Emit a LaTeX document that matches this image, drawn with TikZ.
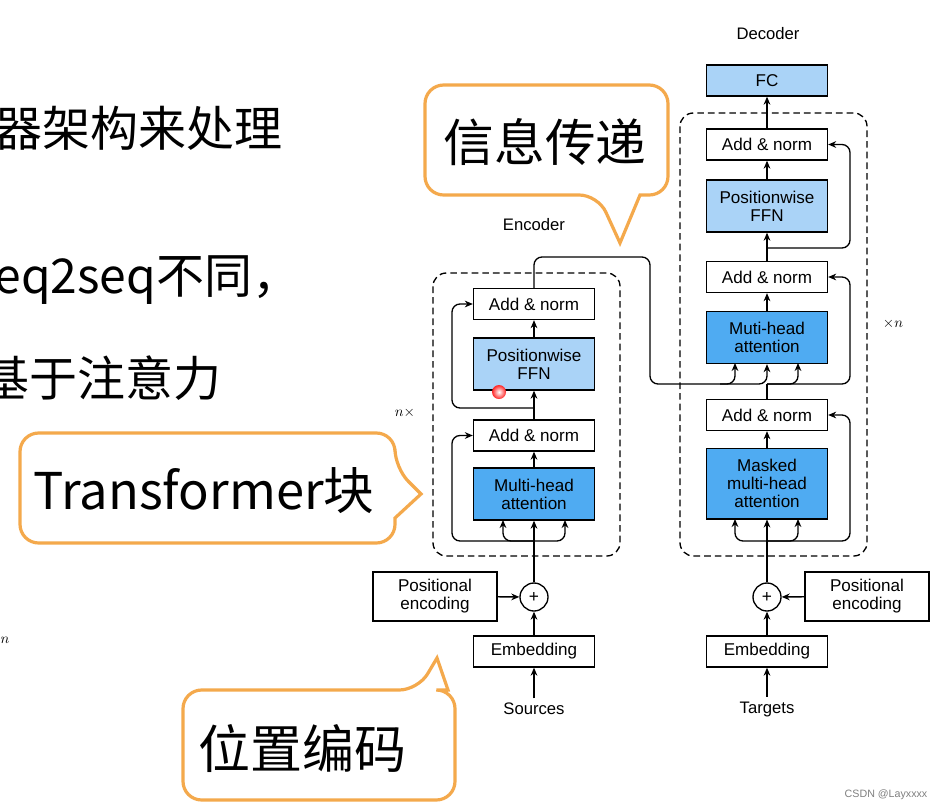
\documentclass[tikz,border=0pt]{standalone}
\usepackage{fontspec}
\setmainfont{Liberation Sans}
\newfontfamily\cjk{Noto Sans CJK SC}
\usetikzlibrary{arrows.meta}
\definecolor{dblue}{HTML}{4FABF2}
\definecolor{lblue}{HTML}{AAD3F7}
\definecolor{orng}{HTML}{F4A94C}
\begin{document}
\begin{tikzpicture}[x=0.75pt,y=-0.75pt,
  box/.style={draw,line width=1pt,minimum width=90.75pt,minimum height=23.25pt,inner sep=0pt,align=center,font=\fontsize{12.8}{13.5}\selectfont,fill=white},
  tall/.style={box,minimum height=39pt},
  pe/.style={box,minimum width=93pt,minimum height=36.75pt},
  plus/.style={draw,line width=1pt,circle,minimum size=21pt,inner sep=0pt,font=\fontsize{13}{13}\selectfont},
  blockbox/.style={line width=1pt,rounded corners=10pt,dash pattern=on 5pt off 3pt},
  ar/.style={line width=1pt,-{Stealth[length=6pt,width=5pt]},rounded corners=6pt},
  ln/.style={line width=1pt,rounded corners=6pt},
  lab/.style={font=\fontsize{12.5}{13}\selectfont},
  callout/.style={draw=orng,line width=2.4pt,fill=white,rounded corners=14pt},
  big/.style={font=\cjk\fontsize{36}{42}\selectfont}]
\useasboundingbox (0,0) rectangle (947,811);
\fill[white] (0,0) rectangle (947,811);
% left text
\node[big,anchor=east] (t1) at (287,128) {编码器架构来处理};
\node[big,anchor=east] (t2) at (305,280) {seq2seq不同，};
\node[big,anchor=east] (t3) at (226,378) {基于注意力};
\node[anchor=east,font=\fontsize{11}{11}\selectfont] (t4) at (14,640) {$\times n$};
% dashed boxes
\draw[blockbox] (433,273) rectangle (620,556);
\draw[blockbox] (680,113) rectangle (867,556);
\node[lab] (enc) at (534,225) {Encoder};
\node[lab] (dec) at (768,34) {Decoder};
\node[font=\fontsize{11}{11}\selectfont] (nx) at (405,413) {$n\times$};
\node[font=\fontsize{11}{11}\selectfont] (xn) at (893,324) {$\times n$};
% encoder
\node[box] (ean2) at (534,304) {Add \& norm};
\node[tall,fill=lblue] (effn) at (534,364) {Positionwise\\FFN};
\node[box] (ean1) at (534,435.5) {Add \& norm};
\node[tall,fill=dblue] (emha) at (534,494) {Multi-head\\attention};
\node[plus] (eplus) at (534,597) {+};
\node[pe] (epe) at (435,596.5) {Positional\\encoding};
\node[box] (eemb) at (534,651.5) {Embedding};
\node[lab] (src) at (534,709) {Sources};
% decoder
\node[box,fill=lblue] (fc) at (767,80.5) {FC};
\node[box] (dan3) at (767,144.5) {Add \& norm};
\node[tall,fill=lblue] (dffn) at (767,206) {Positionwise\\FFN};
\node[box] (dan2) at (767,277) {Add \& norm};
\node[tall,fill=dblue] (dmha) at (767,337.5) {Muti-head\\attention};
\node[box] (dan1) at (767,415) {Add \& norm};
\node[box,fill=dblue,minimum height=53pt] (dmm) at (767,483.5) {Masked\\multi-head\\attention};
\node[plus] (dplus) at (767,597) {+};
\node[pe] (dpe) at (867,596.5) {Positional\\encoding};
\node[box] (demb) at (767,651.5) {Embedding};
\node[lab] (tgt) at (767,709) {Targets};
% encoder connectors
\draw[ar] (src) -- (eemb);
\draw[ar] (eemb) -- (eplus);
\draw[ar] (epe) -- (eplus);
\draw[ar] (eplus) -- (emha);
\draw[ar] (534,541) -| (503,520);
\draw[ar] (534,541) -| (565,520);
\draw[ar] (534,541) -| (452,435.5) -- (ean1.west);
\draw[ar] (emha) -- (ean1);
\draw[ar] (ean1) -- (effn);
\draw[ar] (534,408) -| (452,304) -- (ean2.west);
\draw[ar] (effn) -- (ean2);
\draw[ar] (ean2.north) -- (534,257) -- (650,257) -- (650,384) -- (767,384) -- (dmha.south);
\draw[ar] (720,384) -| (735,363);
% decoder connectors
\draw[ar] (tgt) -- (demb);
\draw[ar] (demb) -- (dplus);
\draw[ar] (dpe) -- (dplus);
\draw[ar] (dplus) -- (dmm);
\draw[ar] (767,541) -| (735,519);
\draw[ar] (767,541) -| (798,519);
\draw[ar] (767,541) -| (850,415) -- (dan1.east);
\draw[ar] (dmm) -- (dan1);
\draw[ln] (dan1.north) -- (767,384);
\draw[ar] (767,384) -| (798,363);
\draw[ar] (767,384) -| (850,277) -- (dan2.east);
\draw[ar] (dmha) -- (dan2);
\draw[ar] (dan2) -- (dffn);
\draw[ar] (767,248) -| (850,144.5) -- (dan3.east);
\draw[ar] (dffn) -- (dan3);
\draw[ar] (dan3) -- (fc);
% red dot
\shade[inner color=white,outer color=red!85] (499,392) circle (7);
% callouts
\draw[callout] (598,195) [sharp corners] -- (620,243) -- (640,195) [rounded corners=14pt] -- (668,195) -- (668,85) -- (425,85) -- (425,195) -- cycle;
\node[big,font=\cjk\fontsize{38}{44}\selectfont] (c1) at (545,142) {信息传递};
\draw[callout] (395,468) [sharp corners] -- (421,494) -- (395,518) [rounded corners=14pt] -- (395,543) -- (20,543) -- (20,433) -- (395,433) -- cycle;
\node[big,font=\cjk\fontsize{38}{44}\selectfont] (c2) at (204,491) {Transformer块};
\draw[callout] (418,690) [sharp corners] -- (437,658) -- (448,690) [rounded corners=14pt] -- (455,690) -- (455,800) -- (183,800) -- (183,690) -- cycle;
\node[big,font=\cjk\fontsize{39}{44}\selectfont] (c3) at (302,748) {位置编码};
\node[font=\fontsize{8}{8}\selectfont,text=gray] (wm) at (886,795) {CSDN @Layxxxx};
\end{tikzpicture}
\end{document}
